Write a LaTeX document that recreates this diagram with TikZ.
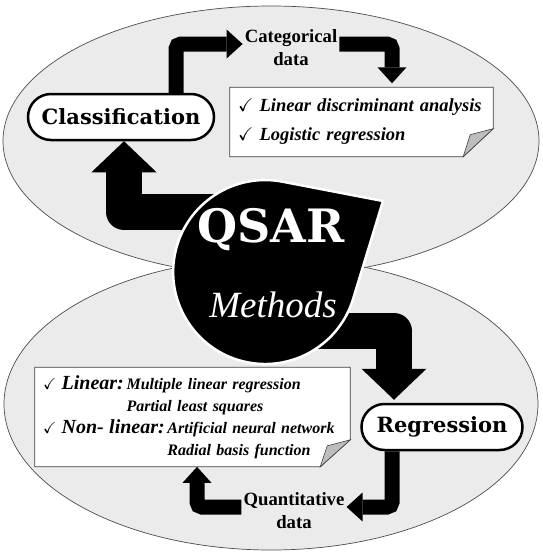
\documentclass[tikz,border=0pt]{standalone}
\usepackage{fontspec}
\usepackage{amssymb}
\setmainfont{Liberation Serif}
\newfontfamily\heavyfont{DejaVu Serif}
\usetikzlibrary{arrows.meta,shapes.misc}
\definecolor{ovalgray}{HTML}{EBEBEB}
\definecolor{flapgray}{HTML}{BDBDBD}
\pgfdeclarelayer{back}
\pgfdeclarelayer{mid}
\pgfsetlayers{back,mid,main}
\newcommand\kindlabel[1]{{\fontsize{20}{22}\selectfont #1}\,}

\begin{document}
\begin{tikzpicture}[x=1pt,y=-1pt,
 oval/.style={draw=black!70,line width=0.7pt,fill=ovalgray},
 pill/.style={rounded rectangle,draw,line width=2.5pt,fill=white,minimum height=46pt,inner sep=0pt,
   font=\heavyfont\bfseries\fontsize{21}{25}\selectfont},
 datalab/.style={font=\bfseries\fontsize{18.7}{23}\selectfont,align=center,inner sep=2pt},
 note/.style={align=left,inner sep=8pt},
 paper/.style={draw=black!75,line width=0.8pt,fill=white},
 flap/.style={draw=black!75,line width=0.6pt,fill=flapgray},
 bigarr/.style={line width=36pt,line join=round,-{Triangle[width=65pt,length=31pt,line width=0pt]}},
 smallarr/.style={line width=15pt,rounded corners=5pt,-{Triangle[width=29pt,length=16pt,line width=0pt]}}]
\useasboundingbox (0,0) rectangle (543,555);

% the two ovals
\begin{pgfonlayer}{back}
\draw[oval] (271,404) ellipse [x radius=267, y radius=146];
\draw[oval] (271,141) ellipse [x radius=268, y radius=135];
\end{pgfonlayer}

\node[circle,minimum size=184pt,inner sep=0pt,outer sep=0pt] (qsar) at (265,272) {};
\node[pill,minimum width=186pt] (class) at (121,117) {Classification};
\node[pill,minimum width=161pt] (reg) at (442,427) {Regression};
\node[datalab] (cat) at (291,48) {Categorical\\data};
\node[datalab] (quant) at (294,511) {Quantitative\\data};
\node[note,minimum width=263pt,minimum height=69pt,text width=247pt,
  font=\bfseries\itshape\fontsize{18.5}{29}\selectfont] (meth1) at (361.5,122)
  {$\checkmark$ Linear discriminant analysis\\$\checkmark$ Logistic regression};
\node[note,minimum width=315pt,minimum height=98pt,text width=299pt,
  font=\bfseries\itshape\fontsize{16}{22}\selectfont] (meth2) at (192.5,417)
  {\mbox{$\checkmark$ \kindlabel{Linear:}Multiple linear regression}\\
   \mbox{\hphantom{$\checkmark$ \kindlabel{Linear:}}Partial least squares}\\
   \mbox{$\checkmark$ \kindlabel{Non- linear:}Artificial neural network}\\
   \mbox{\hphantom{$\checkmark$ \kindlabel{Non- linear:}}Radial basis function}};

% note papers with folded corner
\begin{pgfonlayer}{mid}
\draw[paper] (meth1.north west) -- (meth1.north east) -- ([yshift=28pt]meth1.south east)
  -- ([xshift=-30pt]meth1.south east) -- (meth1.south west) -- cycle;
\draw[flap] ([yshift=28pt]meth1.south east) -- ([xshift=-23pt,yshift=22pt]meth1.south east)
  -- ([xshift=-30pt]meth1.south east) -- cycle;
\draw[paper] (meth2.north west) -- (meth2.north east) -- ([yshift=27pt]meth2.south east)
  -- ([xshift=-30pt]meth2.south east) -- (meth2.south west) -- cycle;
\draw[flap] ([yshift=27pt]meth2.south east) -- ([xshift=-23pt,yshift=21pt]meth2.south east)
  -- ([xshift=-30pt]meth2.south east) -- cycle;
\end{pgfonlayer}

% arrows
\draw[smallarr] (class.north -| 176,0) |- (cat.west |- 0,44);
\draw[smallarr,shorten >=4pt] (cat.east |- 0,44) -| (meth1.north -| 392,0);
\draw[smallarr] (reg.south -| 392,0) |- (quant.east |- 0,507);
\draw[smallarr] (quant.west |- 0,507) -| (meth2.south -| 197,0);
\draw[bigarr] (qsar.center |- 0,212) -| (class.south -| 124,0);
\draw[bigarr,shorten >=3pt] (qsar.center |- 0,331) -| (reg.north -| 394,0);

% the drop
\coordinate (tip) at (383,201);
\draw[white,line width=2.5pt,fill=black] (tip) -- (qsar.79.1)
  arc[start angle=-79.1,end angle=-342.9,radius=92] -- cycle;
\node[font=\heavyfont\bfseries\fontsize{46}{46}\selectfont,text=white] (qsarlab) at (271,230) {QSAR};
\node[font=\itshape\fontsize{37}{37}\selectfont,text=white] (methlab) at (273,305) {Methods};
\end{tikzpicture}
\end{document}
